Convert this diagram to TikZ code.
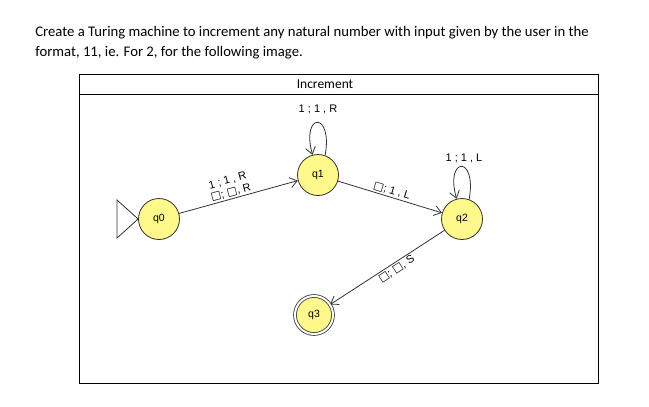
\documentclass[tikz,border=0pt]{standalone}
\usepackage{fontspec}
\setmainfont{Carlito}
\newfontfamily\lab{Liberation Sans}
\newfontfamily\djv{DejaVu Sans}
\usetikzlibrary{arrows.meta}
\newcommand{\bx}{{\djv\fontsize{11}{11}\selectfont □}}
\begin{document}
\begin{tikzpicture}[x=1pt,y=-1pt,line width=0.8pt,
  st/.style={circle,draw=black!80,fill=yellow!45,minimum size=41pt,inner sep=0pt,font=\lab\fontsize{10.5}{10.5}\selectfont},
  tr/.style={draw=black!80,-{Straight Barb[length=7pt,width=10pt]}},
  lb/.style={font=\lab\fontsize{11}{11}\selectfont,sloped,align=center,inner sep=1.5pt}]
\useasboundingbox[fill=white] (0,0) rectangle (649,407);
\node[anchor=west,inner sep=0pt,font=\fontsize{14.7}{18}\selectfont] (t1) at (35,33) {Create a Turing machine to increment any natural number with input given by the user in the};
\node[anchor=west,inner sep=0pt,font=\fontsize{14.7}{18}\selectfont] (t2) at (35,53) {format, 11, ie. For 2, for the following image.};
\draw[line width=0.6pt] (79,74) rectangle (598,383);
\draw[line width=0.6pt] (79,94) -- (598,94);
\node[font=\fontsize{13.5}{14}\selectfont] (hd) at (325,84) {Increment};
\node[st] (q0) at (159,219) {q0};
\node[st] (q1) at (318,175) {q1};
\node[st] (q2) at (462,219) {q2};
\node[st,double,double distance=2pt,minimum size=38pt] (q3) at (314,315) {q3};
\draw[draw=black!80] (q0.west) -- (117,200) -- (117,238) -- cycle;
\draw[tr] (q0) -- node[lb,above,pos=0.45] {1 ; 1 , R\\[1pt] \bx ; \bx , R} (q1);
\draw[tr] (q1) -- node[lb,above] {\bx ; 1 , L} (q2);
\draw[tr] (q2) -- node[lb,below,pos=0.45] {\bx ; \bx , S} (q3);
\draw[tr] (q1.70) .. controls +(8,-45) and +(-12,-42) .. (q1.105);
\draw[tr] (q2.70) .. controls +(8,-45) and +(-12,-42) .. (q2.105);
\node[lb] (l1) at (318,109) {1 ; 1 , R};
\node[lb] (l2) at (464,158) {1 ; 1 , L};
\end{tikzpicture}
\end{document}
